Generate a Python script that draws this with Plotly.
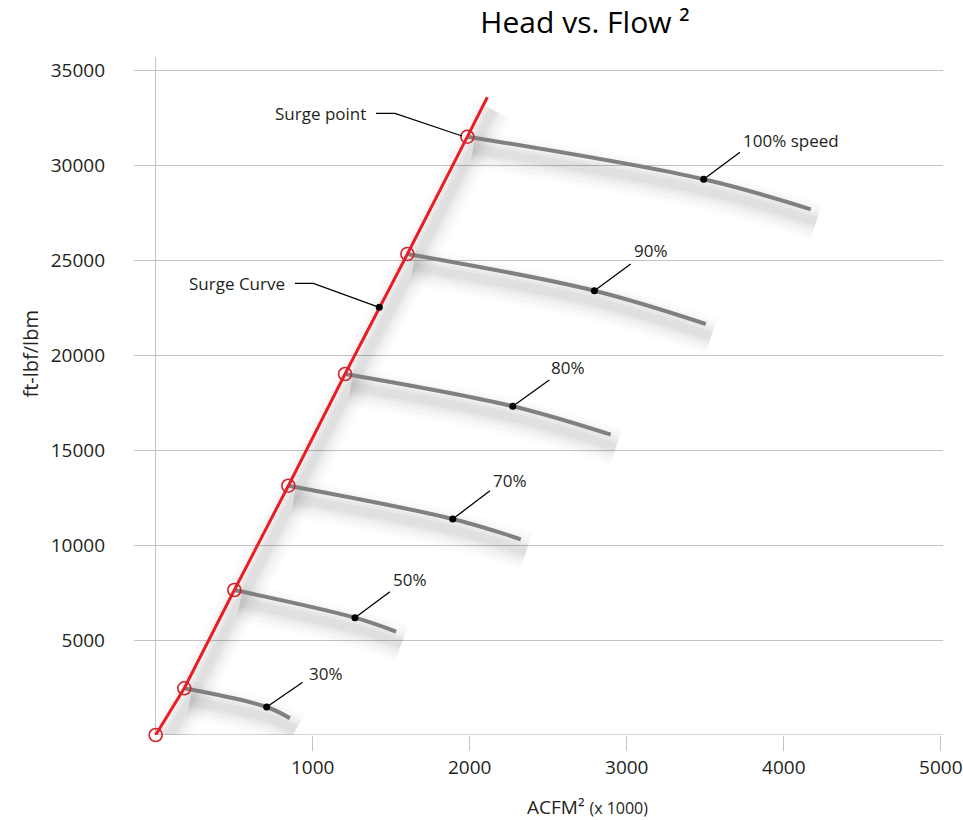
import plotly.graph_objects as go

# surge line: surge points of every speed curve, plus the top end of the line
surge_x = [0, 182, 501, 845, 1206, 1603, 1985]
surge_y = [0, 2458, 7632, 13121, 19000, 25316, 31490]
surge_top_x = 2112
surge_top_y = 33563

# speed curves (ACFM² x1000, ft-lbf/lbm): surge point, mid dot, end
speed_labels = ['30%', '50%', '70%', '80%', '90%', '100% speed']
curve_x = [
    [182, 707, 855],
    [501, 1269, 1531],
    [845, 1892, 2325],
    [1206, 2274, 2898],
    [1603, 2794, 3503],
    [1985, 3490, 4172],
]
curve_y = [
    [2458, 1474, 879],
    [7632, 6174, 5437],
    [13121, 11368, 10300],
    [19000, 17300, 15805],
    [25316, 23384, 21632],
    [31490, 29247, 27668],
]

# black dots on the curves and where their leader lines end
dot_x = [707, 1269, 1892, 2274, 2794, 3490]
dot_y = [1474, 6174, 11368, 17300, 23384, 29247]
leader_x = [936, 1492, 2129, 2507, 3025, 3721]
leader_y = [2774, 7542, 12858, 18684, 24789, 30668]
label_x = [962, 1497, 2134, 2507, 3032, 3728]
label_y = [3211, 8195, 13384, 19353, 25489, 31279]

# callouts for the surge line
callout_labels = ['Surge point', 'Surge Curve']
callout_x = [[1403, 1524, 1951], [887, 1004, 1424]]
callout_y = [[32721, 32721, 31526], [23774, 23774, 22511]]

x_ticks = [1000, 2000, 3000, 4000, 5000]
y_ticks = [5000, 10000, 15000, 20000, 25000, 30000, 35000]

X_RANGE = [-138, 5014]
Y_RANGE = [0, 35684]

FONT = 'Open Sans'
INK = '#231f20'
RED = '#ed1c24'
GREY = '#808080'
GRID = '#c4c4c4'

# fake blurred drop shadow: several wide transparent strokes, shifted down-right
SHADOW_DX = 35
SHADOW_DY = -650
shadow_layers = [(38, 0.015), (30, 0.02), (22, 0.025), (15, 0.03), (9, 0.03)]


def add_shadow(fig, xs, ys):
    sx = [v + SHADOW_DX for v in xs]
    sy = [v + SHADOW_DY for v in ys]
    for w, a in shadow_layers:
        fig.add_trace(go.Scatter(x=sx, y=sy, mode='lines', line_shape='spline',
                                 line=dict(color=f'rgba(0,0,0,{a})', width=w),
                                 hoverinfo='skip', showlegend=False))


fig = go.Figure()

line_x = surge_x + [surge_top_x]
line_y = surge_y + [surge_top_y]
add_shadow(fig, line_x, line_y)
for cx, cy in zip(curve_x, curve_y):
    add_shadow(fig, cx, cy)

# baseline at y=0
fig.add_shape(type='line', x0=0, x1=X_RANGE[1], y0=0, y1=0, xref='x', yref='y',
              line=dict(color=GRID, width=1.3), layer='below')

for cx, cy, name in zip(curve_x, curve_y, speed_labels):
    fig.add_trace(go.Scatter(x=cx, y=cy, mode='lines', name=name, line_shape='spline',
                             line=dict(color=GREY, width=4), showlegend=False))

fig.add_trace(go.Scatter(x=line_x, y=line_y, mode='lines', name='Surge Curve',
                         line=dict(color=RED, width=3), showlegend=False))
fig.add_trace(go.Scatter(x=surge_x, y=surge_y, mode='markers', name='Surge point',
                         marker=dict(symbol='circle-open', size=13, color='#d2232a',
                                     line=dict(width=1.6)),
                         cliponaxis=False, showlegend=False))

# leader lines
for i in range(len(dot_x)):
    fig.add_trace(go.Scatter(x=[dot_x[i], leader_x[i]], y=[dot_y[i], leader_y[i]],
                             mode='lines', line=dict(color='black', width=1.3),
                             hoverinfo='skip', showlegend=False))
for cx, cy in zip(callout_x, callout_y):
    fig.add_trace(go.Scatter(x=cx, y=cy, mode='lines', line=dict(color='black', width=1.3),
                             hoverinfo='skip', showlegend=False))

fig.add_trace(go.Scatter(x=dot_x + [callout_x[1][-1]], y=dot_y + [callout_y[1][-1]],
                         mode='markers', marker=dict(color='black', size=7),
                         showlegend=False))

for lx, ly, txt in zip(label_x, label_y, speed_labels):
    fig.add_annotation(x=lx, y=ly, text=txt, showarrow=False, xanchor='left',
                       yanchor='middle', font=dict(family=FONT, size=17, color=INK))
for cx, cy, txt in zip(callout_x, callout_y, callout_labels):
    fig.add_annotation(x=cx[0] - 50, y=cy[0], text=txt, showarrow=False, xanchor='right',
                       yanchor='middle', font=dict(family=FONT, size=17, color=INK))

# axis titles
fig.add_annotation(x=0.483, y=-0.106, xref='paper', yref='paper', xanchor='left',
                   yanchor='middle', showarrow=False,
                   text="ACFM² <span style='font-size:16px'>(x 1000)</span>",
                   font=dict(family=FONT, size=19, color=INK))
fig.add_annotation(x=-0.147, y=0.562, xref='paper', yref='paper', textangle=-90,
                   showarrow=False, text='ft-lbf/lbm',
                   font=dict(family=FONT, size=20, color=INK))

fig.update_layout(
    width=963, height=820,
    margin=dict(l=134, r=20, t=57, b=85),
    plot_bgcolor='white', paper_bgcolor='white',
    title=dict(text='Head vs. Flow ²', x=0.6075, xanchor='center', y=0.973,
               yanchor='middle', font=dict(family=FONT, size=30, color='black')),
    font=dict(family=FONT, color=INK),
)
fig.update_xaxes(range=X_RANGE, tickvals=x_ticks, ticktext=[str(v) for v in x_ticks],
                 showgrid=False, zeroline=True, zerolinecolor=GRID, zerolinewidth=1.3,
                 ticks='outside', ticklen=15, tickcolor=GRID, tickwidth=1.3,
                 tickfont=dict(family=FONT, size=19, color=INK), showline=False,
                 automargin=False)
fig.update_yaxes(range=Y_RANGE, tickvals=y_ticks, ticktext=[str(v) for v in y_ticks],
                 showgrid=True, gridcolor=GRID, gridwidth=1.3, zeroline=False,
                 ticks='', ticklabelstandoff=28,
                 tickfont=dict(family=FONT, size=19, color=INK), showline=False,
                 automargin=False)

# the page's default body margin would push the 963x820 figure off screen
fig.write_html('out.html', config={'displayModeBar': False},
               post_script="document.body.style.margin = '0';")
